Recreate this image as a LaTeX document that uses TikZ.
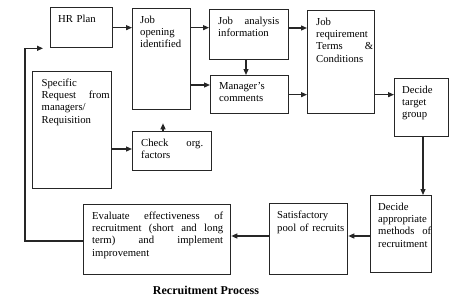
\documentclass[tikz,border=0pt]{standalone}
\usepackage{fontspec}
\setmainfont{Liberation Serif}
\usetikzlibrary{arrows.meta,calc,positioning}
\tikzset{
  box/.style={draw=black!85, line width=1.3pt, anchor=north west, inner sep=0pt},
  boxtext/.style={anchor=north west, inner sep=0pt, align=left, text width=#1, font=\fontsize{10.7}{12.3}\selectfont},
  flow/.style={-{Triangle[length=6pt,width=5pt]}, line width=1.2pt, black!85},
  title/.style={font=\fontsize{12}{14}\selectfont\bfseries}
}

\begin{document}
\begin{tikzpicture}[x=1pt,y=-1pt]
  \useasboundingbox (0,0) rectangle (474,300);
  % boxes
  \node[box, minimum width=62pt, minimum height=40pt] (hr) at (50,7) {};
  \node[box, minimum width=58pt, minimum height=101pt] (open) at (132,8) {};
  \node[box, minimum width=79pt, minimum height=50pt] (analysis) at (209,9) {};
  \node[box, minimum width=78pt, minimum height=38pt] (comments) at (210,75) {};
  \node[box, minimum width=67pt, minimum height=103pt] (req) at (307,10) {};
  \node[box, minimum width=54pt, minimum height=58pt] (target) at (394,78) {};
  \node[box, minimum width=61pt, minimum height=77pt] (methods) at (370,195) {};
  \node[box, minimum width=78pt, minimum height=71pt] (pool) at (269,203) {};
  \node[box, minimum width=147pt, minimum height=70pt] (evaluate) at (83,204) {};
  \node[box, minimum width=79pt, minimum height=117pt] (request) at (32,71) {};
  \node[box, minimum width=79pt, minimum height=39pt] (check) at (132,131) {};
  % texts
  \node[boxtext=50pt] at ([shift={(8,7.5)}]hr.north west) {HR Plan};
  \node[boxtext=45pt] at ([shift={(8,7.5)}]open.north west) {Job\\opening\\identified};
  \node[boxtext=61pt] at ([shift={(9,7.5)}]analysis.north west) {Job \hfill analysis\\information};
  \node[boxtext=62pt] at ([shift={(9,7)}]comments.north west) {Manager’s\\comments};
  \node[boxtext=57pt] at ([shift={(9,7.5)}]req.north west) {Job\\requirement\\Terms \hfill \&\\Conditions};
  \node[boxtext=45pt] at ([shift={(8,7.5)}]target.north west) {Decide\\target\\group};
  \node[boxtext=53pt] at ([shift={(8,7.5)}]methods.north west) {Decide\\appropriate\\methods \hfill of\\recruitment};
  \node[boxtext=68pt] at ([shift={(8,8)}]pool.north west) {Satisfactory\\pool of recruits};
  \node[boxtext=131pt] at ([shift={(9,7.5)}]evaluate.north west) {Evaluate \hfill effectiveness \hfill of\\recruitment \hfill (short \hfill and \hfill long\\term) \hfill and \hfill implement\\improvement};
  \node[boxtext=68pt] at ([shift={(9.5,7.5)}]request.north west) {Specific\\Request \hfill from\\managers/\\Requisition};
  \node[boxtext=62pt] at ([shift={(9,7.5)}]check.north west) {Check \hfill org.\\factors};
  \node[title] (caption) at (206,290) {Recruitment Process};
  % connectors
  \coordinate (back) at (25,241);
  \draw[flow] (hr.east) -- (open.west |- hr.east);
  \draw[flow] (open.east |- hr.east) -- (analysis.west |- hr.east);
  \draw[flow] (open.east |- 0,85) -- (comments.west |- 0,85);
  \draw[flow] (analysis.south -| 246,0) -- (comments.north -| 246,0);
  \draw[flow] (analysis.east |- 0,28) -- (req.west |- 0,28);
  \draw[flow] (comments.east) -- (req.west |- comments.east);
  \draw[flow] (req.east |- comments.east) -- (target.west |- comments.east);
  \draw[flow] (target.south -| 423,0) -- (methods.north -| 423,0);
  \draw[flow] (methods.west |- 0,236) -- (pool.east |- 0,236);
  \draw[flow] (pool.west |- 0,236) -- (evaluate.east |- 0,236);
  \draw[flow] (request.east |- 0,149) -- (check.west |- 0,149);
  \draw[flow, shorten >=13pt] (check.north -| 163,0) -- (open.south -| 163,0);
  \draw[flow, shorten >=7pt] (evaluate.west |- back) -- (back) |- (hr.south west);
\end{tikzpicture}
\end{document}
